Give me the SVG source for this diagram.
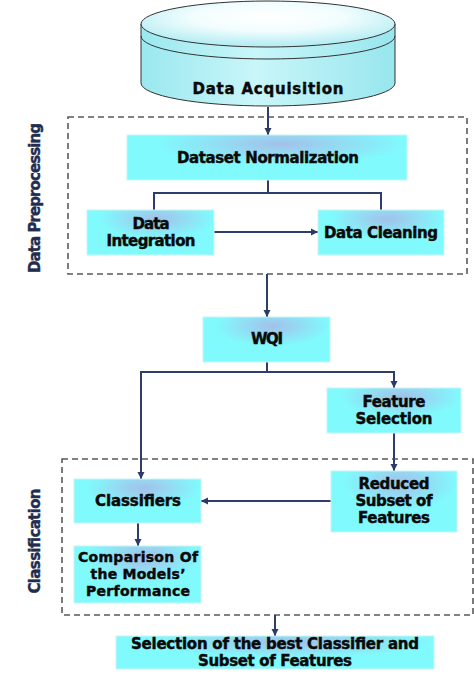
<svg xmlns="http://www.w3.org/2000/svg" width="474" height="700" viewBox="0 0 474 700">
<defs>
<radialGradient id="boxg" cx="0.55" cy="0.2" r="0.45" fx="0.55" fy="0.2">
<stop offset="0" stop-color="#a2c0ea"/>
<stop offset="0.35" stop-color="#98d4f0"/>
<stop offset="1" stop-color="#80fafd"/>
</radialGradient>
<radialGradient id="topg" cx="0.5" cy="0.35" r="0.6">
<stop offset="0" stop-color="#ffffff"/>
<stop offset="0.5" stop-color="#f2fdfe"/>
<stop offset="1" stop-color="#b8eef4"/>
</radialGradient>
<linearGradient id="sideg" x1="0" y1="0" x2="1" y2="0">
<stop offset="0" stop-color="#9ae8ef"/>
<stop offset="0.45" stop-color="#c9f6f9"/>
<stop offset="1" stop-color="#98e6ee"/>
</linearGradient>
<marker id="ah" markerWidth="8" markerHeight="8" refX="7" refY="4" orient="auto" markerUnits="userSpaceOnUse">
<path d="M0,0.5 L7,4 L0,7.5 Z" fill="#2b3a66"/>
</marker>
</defs>
<style>
.box{fill:url(#boxg);stroke:#c8f4f6;stroke-width:1}
.t{font-family:"DejaVu Sans","Liberation Sans",sans-serif;font-weight:bold;font-size:15px;fill:#0a0a0a;stroke:#0a0a0a;stroke-width:0.45;text-anchor:middle}
.s{font-size:14px}
.v{font-family:"DejaVu Sans","Liberation Sans",sans-serif;font-weight:bold;font-size:15px;fill:#1f2d4f;stroke:#1f2d4f;stroke-width:0.4;text-anchor:middle}
.c{fill:none;stroke:#2e3d69;stroke-width:2}
.a{fill:none;stroke:#2e3d69;stroke-width:2;marker-end:url(#ah)}
.dash{fill:none;stroke:#5a5a5a;stroke-width:1.6;stroke-dasharray:6,4}
</style>

<g id="group-preprocessing">
<rect class="dash" x="68" y="117" width="399" height="157"/>
<text class="v" transform="translate(40,198) rotate(-90)" textLength="150">Data Preprocessing</text>
</g>
<g id="group-classification">
<rect class="dash" x="62" y="459" width="411" height="156"/>
<text class="v" transform="translate(40,541) rotate(-90)" textLength="105">Classification</text>
</g>

<g id="connectors">
<line class="a" x1="268" y1="107" x2="268" y2="135"/>
<polyline class="c" points="268,180 268,193"/>
<polyline class="c" points="154,210 154,193 381,193 381,210"/>
<line class="a" x1="214" y1="232" x2="318" y2="232"/>
<line class="a" x1="267" y1="274" x2="267" y2="317"/>
<polyline class="c" points="267,362 267,372"/>
<polyline class="a" points="267,372 141,372 141,479"/>
<polyline class="a" points="267,372 394,372 394,388"/>
<line class="a" x1="394" y1="433" x2="394" y2="471"/>
<line class="a" x1="331" y1="501" x2="201" y2="501"/>
<line class="a" x1="138" y1="523" x2="138" y2="546"/>
<line class="a" x1="275" y1="615" x2="275" y2="636"/>
</g>

<g id="data-acquisition">
<path d="M141,24 L141,83 A127,23 0 0 0 395,83 L395,24 Z" fill="url(#sideg)" stroke="#333" stroke-width="1"/>
<path d="M141,36 A127,23 0 0 0 395,36" fill="none" stroke="#333" stroke-width="1"/>
<ellipse cx="268" cy="24" rx="127" ry="23" fill="url(#topg)" stroke="#333" stroke-width="1"/>
<text class="t" x="268" y="93.5" textLength="151">Data Acquisition</text>
</g>

<g id="dataset-normalization">
<rect class="box" x="127" y="135" width="280" height="45"/>
<text class="t" x="268" y="162.5" textLength="182">Dataset Normalization</text>
</g>

<g id="data-integration">
<rect class="box" x="87" y="210" width="127" height="45"/>
<text class="t" x="151" y="228.5" textLength="37">Data</text>
<text class="t" x="151" y="245.5" textLength="89">Integration</text>
</g>

<g id="data-cleaning">
<rect class="box" x="318" y="210" width="126" height="45"/>
<text class="t" x="381" y="237.5" textLength="114">Data Cleaning</text>
</g>

<g id="wqi">
<rect class="box" x="203" y="317" width="127" height="45"/>
<text class="t" x="267" y="343.5" textLength="32">WQI</text>
</g>

<g id="feature-selection">
<rect class="box" x="327" y="388" width="134" height="45"/>
<text class="t" x="394" y="406.5" textLength="63">Feature</text>
<text class="t" x="394" y="423.5" textLength="77">Selection</text>
</g>

<g id="reduced-subset">
<rect class="box" x="331" y="471" width="126" height="61"/>
<text class="t" x="394" y="489" textLength="71">Reduced</text>
<text class="t" x="394" y="506" textLength="77">Subset of</text>
<text class="t" x="394" y="523" textLength="72">Features</text>
</g>

<g id="classifiers">
<rect class="box" x="74" y="479" width="127" height="44"/>
<text class="t" x="138" y="506" textLength="86">Classifiers</text>
</g>

<g id="comparison">
<rect class="box" x="74" y="546" width="127" height="57"/>
<text class="t s" x="138" y="562" textLength="120">Comparison Of</text>
<text class="t s" x="138" y="579" textLength="95">the Models’</text>
<text class="t s" x="138" y="596" textLength="104">Performance</text>
</g>

<g id="selection-best">
<rect class="box" x="116" y="636" width="318" height="33"/>
<text class="t" x="275" y="649" textLength="288">Selection of the best Classifier and</text>
<text class="t" x="275" y="666" textLength="154">Subset of Features</text>
</g>
</svg>
